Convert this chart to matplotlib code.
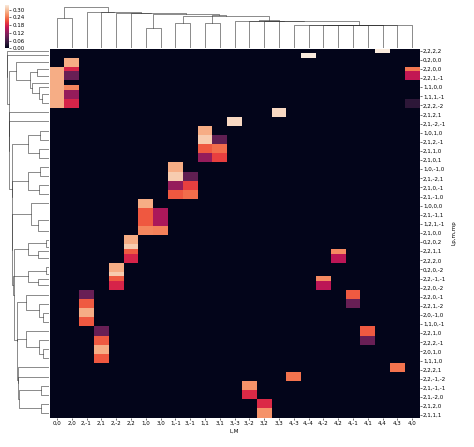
import numpy as np
import pandas as pd
import matplotlib
matplotlib.use("Agg")
import matplotlib.pyplot as plt
import seaborn as sns

# colonnes (L,M) dans l'ordre du clustering
cols = ["0,0", "2,0", "2,-1", "2,1", "2,-2", "2,2", "1,0", "3,0", "1,-1", "3,-1",
        "1,1", "3,1", "3,-3", "3,-2", "3,2", "3,3", "4,-3", "4,-4", "4,-2", "4,2",
        "4,-1", "4,1", "4,4", "4,3", "4,0"]

# lignes (l,p,m,mp) dans l'ordre du clustering (une etiquette sur deux est affichee)
rows = ["2,2,2,2", "2,2,-2,-2", "0,2,0,0", "2,0,0,0", "2,2,0,0", "2,2,-1,1", "2,2,1,-1",
        "0,0,0,0", "1,1,0,0", "1,1,-1,1", "1,1,1,-1", "2,2,-2,2", "2,2,2,-2", "1,2,1,2",
        "2,1,2,1", "1,2,-1,-2", "2,1,-2,-1", "0,1,0,1", "1,0,1,0", "1,2,-1,2", "2,1,2,-1",
        "1,2,0,1", "2,1,1,0", "1,2,1,0", "2,1,0,1", "0,1,0,-1", "1,0,-1,0", "1,2,1,-2",
        "2,1,-2,1", "1,2,-1,0", "2,1,0,-1", "1,2,0,-1", "2,1,-1,0", "0,1,0,0", "1,0,0,0",
        "2,1,1,-1", "2,1,-1,1", "1,2,-1,1", "1,2,1,-1", "1,2,0,0", "2,1,0,0", "2,0,2,0",
        "0,2,0,2", "1,1,1,1", "2,2,1,1", "2,2,0,2", "2,2,2,0", "2,0,-2,0", "0,2,0,-2",
        "1,1,-1,-1", "2,2,-1,-1", "2,2,-2,0", "2,2,0,-2", "2,2,-1,0", "2,2,0,-1",
        "2,2,-2,1", "2,2,1,-2", "0,2,0,-1", "2,0,-1,0", "1,1,-1,0", "1,1,0,-1", "2,2,0,1",
        "2,2,1,0", "2,2,-1,2", "2,2,2,-1", "0,2,0,1", "2,0,1,0", "1,1,0,1", "1,1,1,0",
        "2,2,1,2", "2,2,2,1", "2,2,-2,-1", "2,2,-1,-2", "1,2,-1,-1", "2,1,-1,-1",
        "1,2,0,-2", "2,1,-2,0", "1,2,0,2", "2,1,2,0", "1,2,1,1", "2,1,1,1"]

# valeurs non nulles : groupe de lignes -> {colonne: valeur}
cells = [
    (["2,2,2,2"], {"4,4": 0.337}),
    (["2,2,-2,-2"], {"4,-4": 0.337}),
    (["0,2,0,0", "2,0,0,0"], {"2,0": 0.282}),
    (["2,2,0,0"], {"0,0": 0.282, "2,0": 0.180, "4,0": 0.242}),
    (["2,2,-1,1", "2,2,1,-1"], {"0,0": 0.282, "2,0": 0.090, "4,0": 0.161}),
    (["0,0,0,0"], {"0,0": 0.282}),
    (["1,1,0,0"], {"0,0": 0.282, "2,0": 0.252}),
    (["1,1,-1,1", "1,1,1,-1"], {"0,0": 0.282, "2,0": 0.126}),
    (["2,2,-2,2", "2,2,2,-2"], {"0,0": 0.282, "2,0": 0.180, "4,0": 0.040}),
    (["1,2,1,2", "2,1,2,1"], {"3,3": 0.320}),
    (["1,2,-1,-2", "2,1,-2,-1"], {"3,-3": 0.320}),
    (["0,1,0,1", "1,0,1,0"], {"1,1": 0.282}),
    (["1,2,-1,2", "2,1,2,-1"], {"1,1": 0.309, "3,1": 0.083}),
    (["1,2,0,1", "2,1,1,0"], {"1,1": 0.219, "3,1": 0.234}),
    (["1,2,1,0", "2,1,0,1"], {"1,1": 0.126, "3,1": 0.202}),
    (["0,1,0,-1", "1,0,-1,0"], {"1,-1": 0.282}),
    (["1,2,1,-2", "2,1,-2,1"], {"1,-1": 0.309, "3,-1": 0.083}),
    (["1,2,-1,0", "2,1,0,-1"], {"1,-1": 0.126, "3,-1": 0.202}),
    (["1,2,0,-1", "2,1,-1,0"], {"1,-1": 0.219, "3,-1": 0.234}),
    (["0,1,0,0", "1,0,0,0"], {"1,0": 0.282}),
    (["2,1,1,-1", "2,1,-1,1", "1,2,-1,1", "1,2,1,-1"], {"1,0": 0.219, "3,0": 0.143}),
    (["1,2,0,0", "2,1,0,0"], {"1,0": 0.252, "3,0": 0.248}),
    (["2,0,2,0", "0,2,0,2"], {"2,2": 0.282}),
    (["1,1,1,1"], {"2,2": 0.309}),
    (["2,2,1,1"], {"2,2": 0.221, "4,2": 0.255}),
    (["2,2,0,2", "2,2,2,0"], {"2,2": 0.180, "4,2": 0.156}),
    (["2,0,-2,0", "0,2,0,-2"], {"2,-2": 0.282}),
    (["1,1,-1,-1"], {"2,-2": 0.309}),
    (["2,2,-1,-1"], {"2,-2": 0.221, "4,-2": 0.255}),
    (["2,2,-2,0", "2,2,0,-2"], {"2,-2": 0.180, "4,-2": 0.156}),
    (["2,2,-1,0", "2,2,0,-1"], {"2,-1": 0.090, "4,-1": 0.221}),
    (["2,2,-2,1", "2,2,1,-2"], {"2,-1": 0.221, "4,-1": 0.090}),
    (["0,2,0,-1", "2,0,-1,0"], {"2,-1": 0.282}),
    (["1,1,-1,0", "1,1,0,-1"], {"2,-1": 0.219}),
    (["2,2,0,1", "2,2,1,0"], {"2,1": 0.090, "4,1": 0.221}),
    (["2,2,-1,2", "2,2,2,-1"], {"2,1": 0.221, "4,1": 0.090}),
    (["0,2,0,1", "2,0,1,0"], {"2,1": 0.282}),
    (["1,1,0,1", "1,1,1,0"], {"2,1": 0.219}),
    (["2,2,1,2", "2,2,2,1"], {"4,3": 0.238}),
    (["2,2,-2,-1", "2,2,-1,-2"], {"4,-3": 0.238}),
    (["1,2,-1,-1", "2,1,-1,-1"], {"3,-2": 0.261}),
    (["1,2,0,-2", "2,1,-2,0"], {"3,-2": 0.185}),
    (["1,2,0,2", "2,1,2,0"], {"3,2": 0.185}),
    (["1,2,1,1", "2,1,1,1"], {"3,2": 0.261}),
]

data = np.zeros((len(rows), len(cols)))
for group, vals in cells:
    for r in group:
        for c, v in vals.items():
            data[rows.index(r), cols.index(c)] = v
df = pd.DataFrame(data, index=pd.Index(rows, name="l,p,m,mp"),
                  columns=pd.Index(cols, name="L,M"))


# clustering hierarchique (average, euclidienne), comme sns.clustermap
def linkage_tree(X):
    n = len(X)
    D = np.sqrt(((X[:, None, :] - X[None, :, :]) ** 2).sum(-1))
    np.fill_diagonal(D, np.inf)
    nodes = list(range(n))
    sizes = [1] * n
    active = list(range(n))
    while len(active) > 1:
        sub = D[np.ix_(active, active)]
        k = np.argmin(sub)
        a, b = active[k // len(active)], active[k % len(active)]
        h = D[a, b]
        na, nb = sizes[a], sizes[b]
        D[a, :] = (na * D[a, :] + nb * D[b, :]) / (na + nb)
        D[:, a] = D[a, :]
        D[a, a] = np.inf
        nodes[a] = [h, nodes[a], nodes[b]]
        sizes[a] = na + nb
        active.remove(b)
    return nodes[active[0]]


tree_kw = dict(color=(.2, .2, .2), lw=0.4)


def draw_tree(ax, node, horizontal):
    if isinstance(node, int):
        return node + 0.5, 0.0
    h, a, b = node
    pa, ha = draw_tree(ax, a, horizontal)
    pb, hb = draw_tree(ax, b, horizontal)
    pos = [pa, pa, pb, pb]
    hts = [ha, h, h, hb]
    if horizontal:
        ax.plot(hts, pos, **tree_kw)
    else:
        ax.plot(pos, hts, **tree_kw)
    return (pa + pb) / 2, h


row_tree = linkage_tree(data)
col_tree = linkage_tree(data.T)

plt.rcParams["font.family"] = "DejaVu Sans"
plt.rcParams["font.size"] = 4

W, H = 474, 447
fig = plt.figure(figsize=(W / 100, H / 100), dpi=100)


def box(x0, y0, x1, y1):
    return [x0 / W, 1 - y1 / H, (x1 - x0) / W, (y1 - y0) / H]


ax_heat = fig.add_axes(box(49.5, 48.5, 419.5, 417.5))
ax_row = fig.add_axes(box(5.3, 48.5, 48.5, 417.5))
ax_col = fig.add_axes(box(49.5, 5.3, 419.5, 47.5))
ax_cbar = fig.add_axes(box(5.0, 4.8, 9.5, 48.3))

sns.heatmap(df, ax=ax_heat, cbar_ax=ax_cbar, xticklabels=1, yticklabels=2,
            cbar_kws={"ticks": [0, 0.06, 0.12, 0.18, 0.24, 0.30], "format": "%.2f"})
ax_heat.yaxis.tick_right()
ax_heat.yaxis.set_label_position("right")
plt.setp(ax_heat.get_yticklabels(), rotation=0)
plt.setp(ax_heat.get_xticklabels(), rotation=0)
ax_heat.tick_params(length=1.5, width=0.4, pad=1)
ax_heat.xaxis.labelpad = 2
ax_cbar.tick_params(length=1.5, width=0.4, pad=1)

draw_tree(ax_row, row_tree, True)
ax_row.set_xlim(row_tree[0] * 1.05, 0)
ax_row.set_ylim(len(rows), 0)
draw_tree(ax_col, col_tree, False)
ax_col.set_xlim(0, len(cols))
ax_col.set_ylim(0, col_tree[0] * 1.05)
for ax in (ax_row, ax_col):
    ax.axis("off")

fig.savefig("out.png", dpi=100)
